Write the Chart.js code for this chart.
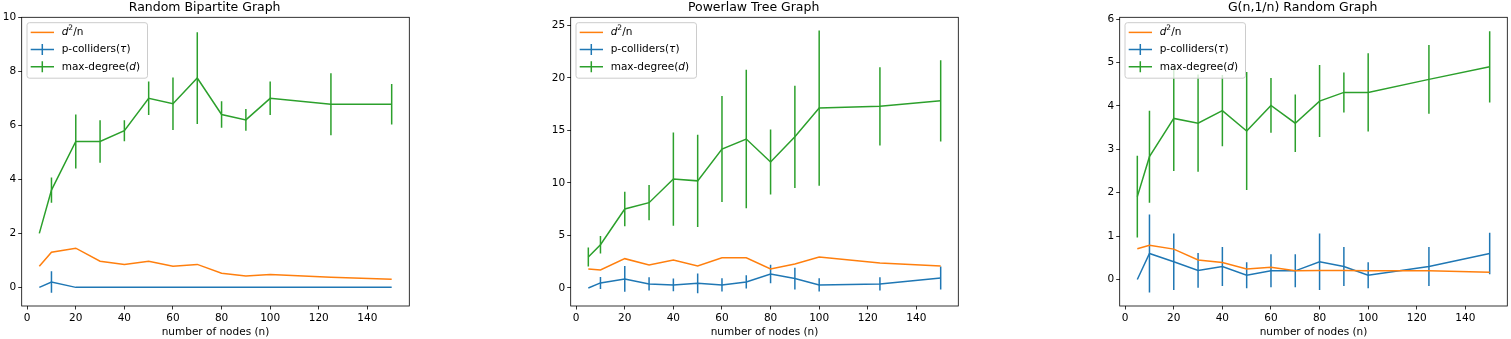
<!DOCTYPE html>
<html>
<head>
<meta charset="utf-8">
<script src="https://cdn.jsdelivr.net/npm/chart.js@4.4.1/dist/chart.umd.min.js"></script>
<style>
  html, body { margin: 0; padding: 0; background: #fff; }
  #wrap { position: relative; width: 1511px; height: 339px; overflow: hidden; }
  canvas { position: absolute; top: 0; }
</style>
</head>
<body>
<div id="wrap">
  <canvas id="bipartite" width="431" height="339" style="left:0px"></canvas>
  <canvas id="powerlaw" width="431" height="339" style="left:549px"></canvas>
  <canvas id="gnp" width="431" height="339" style="left:1098px"></canvas>
</div>
<script>
const nodes = [5, 10, 20, 30, 40, 50, 60, 70, 80, 90, 100, 125, 150];
const xTicks = [0, 20, 40, 60, 80, 100, 120, 140];

// Random Bipartite Graph
const bipD2n = [0.78, 1.3, 1.45, 0.97, 0.85, 0.97, 0.78, 0.85, 0.52, 0.42, 0.48, 0.37, 0.3];
const bipColl = [0, 0.2, 0, 0, 0, 0, 0, 0, 0, 0, 0, 0, 0];
const bipCollErr = [0, 0.4, 0, 0, 0, 0, 0, 0, 0, 0, 0, 0, 0];
const bipMaxDeg = [2.0, 3.6, 5.4, 5.4, 5.8, 7.0, 6.8, 7.75, 6.4, 6.2, 7.0, 6.78, 6.78];
const bipMaxDegErr = [0, 0.47, 1.0, 0.79, 0.39, 0.62, 0.97, 1.7, 0.49, 0.4, 0.62, 1.15, 0.75];
const bipYTicks = [0, 2, 4, 6, 8, 10];

// Powerlaw Tree Graph
const treeD2n = [1.8, 1.72, 2.79, 2.19, 2.66, 2.09, 2.87, 2.87, 1.81, 2.28, 2.95, 2.38, 2.08];
const treeColl = [0, 0.48, 0.86, 0.38, 0.29, 0.44, 0.29, 0.57, 1.33, 0.89, 0.29, 0.38, 0.95];
const treeCollErr = [0, 0.57, 1.22, 0.63, 0.6, 0.94, 0.63, 0.63, 0.89, 1.03, 0.63, 0.63, 1.1];
const treeMaxDeg = [2.95, 4.12, 7.52, 8.12, 10.37, 10.2, 13.23, 14.18, 12.0, 14.4, 17.13, 17.3, 17.82];
const treeMaxDegErr = [0.9, 0.83, 1.65, 1.68, 4.44, 4.4, 5.05, 6.6, 3.1, 4.87, 7.4, 3.73, 3.86];
const treeYTicks = [0, 5, 10, 15, 20, 25];

// G(n,1/n) Random Graph
const gnpD2n = [0.71, 0.79, 0.7, 0.45, 0.39, 0.24, 0.28, 0.2, 0.21, 0.21, 0.2, 0.2, 0.17];
const gnpColl = [0, 0.6, 0.41, 0.21, 0.3, 0.1, 0.2, 0.2, 0.41, 0.3, 0.1, 0.3, 0.6];
const gnpCollErr = [0, 0.9, 0.65, 0.4, 0.45, 0.3, 0.38, 0.38, 0.65, 0.45, 0.3, 0.45, 0.48];
const gnpMaxDeg = [1.91, 2.83, 3.71, 3.6, 3.89, 3.42, 4.01, 3.6, 4.11, 4.31, 4.31, 4.61, 4.9];
const gnpMaxDegErr = [0.94, 1.06, 1.21, 1.12, 0.82, 1.36, 0.63, 0.66, 0.83, 0.46, 0.9, 0.79, 0.82];
const gnpYTicks = [0, 1, 2, 3, 4, 5, 6];

const BLUE = "#1f77b4";
const ORANGE = "#ff7f0e";
const GREEN = "#2ca02c";
const FONT = "'DejaVu Sans', sans-serif";

const legendItems = [
  { color: ORANGE, bar: false, parts: [{ t: "d", it: true }, { t: "2", sup: true }, { t: "/n" }] },
  { color: BLUE, bar: true, parts: [{ t: "p-colliders(" }, { t: "τ", it: true }, { t: ")" }] },
  { color: GREEN, bar: true, parts: [{ t: "max-degree(" }, { t: "d", it: true }, { t: ")" }] },
];

// vertical error bars, drawn right after their own line
const errorBars = {
  id: "errorBars",
  afterDatasetDraw(chart, args) {
    const ds = chart.data.datasets[args.index];
    if (!ds.errors) return;
    const { ctx, chartArea: a, scales } = chart;
    ctx.save();
    ctx.beginPath();
    ctx.rect(a.left, a.top, a.right - a.left, a.bottom - a.top);
    ctx.clip();
    ctx.strokeStyle = ds.borderColor;
    ctx.lineWidth = 1.5;
    ds.data.forEach((p, i) => {
      const e = ds.errors[i];
      if (!e) return;
      const x = scales.x.getPixelForValue(p.x);
      ctx.beginPath();
      ctx.moveTo(x, scales.y.getPixelForValue(p.y + e));
      ctx.lineTo(x, scales.y.getPixelForValue(p.y - e));
      ctx.stroke();
    });
    ctx.restore();
  },
};

// axes frame and the boxed legend in the upper left corner
const frameAndLegend = {
  id: "frameAndLegend",
  afterDraw(chart) {
    const { ctx, chartArea: a } = chart;
    ctx.save();
    ctx.strokeStyle = "#000";
    ctx.lineWidth = 0.8;
    ctx.strokeRect(a.left, a.top, a.right - a.left, a.bottom - a.top);

    const x0 = a.left + 5.3, y0 = a.top + 5.4, w = 120.5, h = 55.5;
    ctx.beginPath();
    ctx.roundRect(x0, y0, w, h, 2.5);
    ctx.fillStyle = "rgba(255,255,255,0.8)";
    ctx.fill();
    ctx.strokeStyle = "#cccccc";
    ctx.lineWidth = 1;
    ctx.stroke();

    legendItems.forEach((item, i) => {
      const y = y0 + 9.7 + i * 17.2;
      ctx.strokeStyle = item.color;
      ctx.lineWidth = 1.5;
      ctx.beginPath();
      ctx.moveTo(x0 + 3.7, y);
      ctx.lineTo(x0 + 27, y);
      if (item.bar) {
        ctx.moveTo(x0 + 15.3, y - 5.5);
        ctx.lineTo(x0 + 15.3, y + 5.5);
      }
      ctx.stroke();

      let tx = x0 + 34.7;
      ctx.fillStyle = "#000";
      ctx.textBaseline = "middle";
      item.parts.forEach((part) => {
        const size = part.sup ? 7.5 : 10.5;
        ctx.font = (part.it ? "italic " : "") + size + "px " + FONT;
        ctx.fillText(part.t, tx, part.sup ? y - 4 : y);
        tx += ctx.measureText(part.t).width;
      });
    });
    ctx.restore();
  },
};

function toPoints(ys) {
  return nodes.map((x, i) => ({ x, y: ys[i] }));
}

function makePanel(id, title, d2n, coll, collErr, maxDeg, maxDegErr, yMin, yMax, yTicks) {
  const tickFont = { family: FONT, size: 10.5 };
  const axisGrid = {
    drawOnChartArea: false,
    drawTicks: true,
    tickLength: 3.5,
    color: "#000",
    lineWidth: 0.8,
  };
  new Chart(document.getElementById(id).getContext("2d"), {
    type: "line",
    data: {
      datasets: [
        {
          label: "max-degree(d)",
          data: toPoints(maxDeg),
          errors: maxDegErr,
          borderColor: GREEN,
          order: 0,
        },
        {
          label: "d^2/n",
          data: toPoints(d2n),
          borderColor: ORANGE,
          order: 1,
        },
        {
          label: "p-colliders(tau)",
          data: toPoints(coll),
          errors: collErr,
          borderColor: BLUE,
          order: 2,
        },
      ],
    },
    options: {
      responsive: false,
      animation: false,
      events: [],
      layout: { padding: { left: 0, right: 21.7, top: 0, bottom: 0 } },
      elements: {
        line: { borderWidth: 1.5, tension: 0, fill: false },
        point: { radius: 0 },
      },
      plugins: {
        legend: { display: false },
        tooltip: { enabled: false },
        title: {
          display: true,
          text: title,
          color: "#000",
          font: { family: FONT, size: 12.5, weight: "normal", lineHeight: 1.2 },
          padding: { top: 0, bottom: 2.3 },
        },
      },
      scales: {
        x: {
          type: "linear",
          min: -2.25,
          max: 157.25,
          afterBuildTicks: (scale) => {
            scale.ticks = xTicks.map((v) => ({ value: v }));
          },
          afterFit: (scale) => {
            scale.height = 33;
          },
          grid: axisGrid,
          border: { display: false },
          ticks: { color: "#000", font: tickFont, padding: 2, maxRotation: 0 },
          title: {
            display: true,
            text: "number of nodes (n)",
            color: "#000",
            font: { family: FONT, size: 10.5, lineHeight: 1.2 },
            padding: { top: 0, bottom: 0 },
          },
        },
        y: {
          type: "linear",
          min: yMin,
          max: yMax,
          afterBuildTicks: (scale) => {
            scale.ticks = yTicks.map((v) => ({ value: v }));
          },
          afterFit: (scale) => {
            scale.width = 21.7;
          },
          grid: axisGrid,
          border: { display: false },
          ticks: { color: "#000", font: tickFont, padding: 2 },
        },
      },
    },
    plugins: [errorBars, frameAndLegend],
  });
}

makePanel("bipartite", "Random Bipartite Graph", bipD2n, bipColl, bipCollErr, bipMaxDeg, bipMaxDegErr, -0.69, 10.0, bipYTicks);
makePanel("powerlaw", "Powerlaw Tree Graph", treeD2n, treeColl, treeCollErr, treeMaxDeg, treeMaxDegErr, -1.72, 25.78, treeYTicks);
makePanel("gnp", "G(n,1/n) Random Graph", gnpD2n, gnpColl, gnpCollErr, gnpMaxDeg, gnpMaxDegErr, -0.61, 6.04, gnpYTicks);
</script>
</body>
</html>
